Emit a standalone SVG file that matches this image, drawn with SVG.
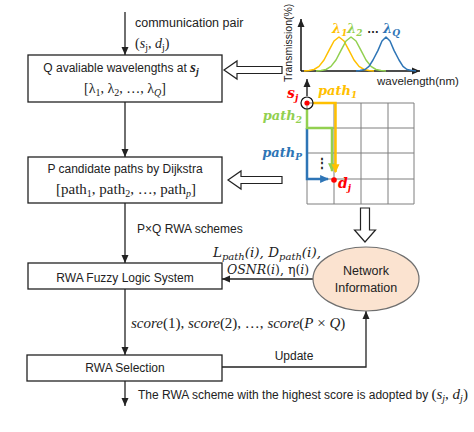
<svg xmlns="http://www.w3.org/2000/svg" width="474" height="432" viewBox="0 0 474 432">
<style>
.box{fill:#fff;stroke:#222;stroke-width:1.3}
.sans{font-family:"Liberation Sans",Arial,sans-serif;font-size:12px;fill:#222}
.ser{font-family:"Liberation Serif","Times New Roman",serif;font-size:15px;fill:#222}
.dv{font-family:"DejaVu Serif",serif;font-size:13.5px;fill:#222}
.it{font-style:italic}
.line{fill:none;stroke:#222;stroke-width:1.3}
.hollow{fill:#fff;stroke:#222;stroke-width:1.2}
.grid{stroke:#7f7f7f;stroke-width:1;fill:none}
.lbl{font-family:"DejaVu Serif",serif;font-size:13px;font-weight:bold;font-style:italic}
</style>
<defs>
<marker id="ah" viewBox="0 0 8 8" refX="8" refY="4" markerWidth="8" markerHeight="8" markerUnits="userSpaceOnUse" orient="auto"><path d="M0,0.5 L8,4 L0,7.5 z" fill="#222"/></marker>
<marker id="ahY" viewBox="0 0 8 8" refX="7" refY="4" markerWidth="9" markerHeight="9" markerUnits="userSpaceOnUse" orient="auto"><path d="M0,0.5 L8,4 L0,7.5 z" fill="#ffc000"/></marker>
<marker id="ahG" viewBox="0 0 8 8" refX="7" refY="4" markerWidth="9" markerHeight="9" markerUnits="userSpaceOnUse" orient="auto"><path d="M0,0.5 L8,4 L0,7.5 z" fill="#92d050"/></marker>
<marker id="ahB" viewBox="0 0 8 8" refX="7" refY="4" markerWidth="9" markerHeight="9" markerUnits="userSpaceOnUse" orient="auto"><path d="M0,0.5 L8,4 L0,7.5 z" fill="#2e75b6"/></marker>
</defs>

<g id="connectors">
<line class="line" x1="125" y1="12" x2="125" y2="55" marker-end="url(#ah)"/>
<line class="line" x1="125" y1="102" x2="125" y2="157" marker-end="url(#ah)"/>
<line class="line" x1="125" y1="203" x2="125" y2="263" marker-end="url(#ah)"/>
<line class="line" x1="125" y1="289" x2="125" y2="355" marker-end="url(#ah)"/>
<line class="line" x1="125" y1="381" x2="125" y2="406" marker-end="url(#ah)"/>
<line class="line" x1="313" y1="279" x2="222" y2="279" marker-end="url(#ah)"/>
<polyline class="line" points="222,367 366,367 366,311" marker-end="url(#ah)"/>
<path class="hollow" d="M224,70 L237,61 L237,66.5 L282,66.5 L282,73.5 L237,73.5 L237,79 Z"/>
<path class="hollow" d="M228,180 L241,171 L241,176.5 L282,176.5 L282,183.5 L241,183.5 L241,189 Z"/>
<path class="hollow" d="M360.5,208 L369.5,208 L369.5,230 L375.5,230 L365,242 L354.5,230 L360.5,230 Z"/>
<text class="sans" x="135" y="27" style="font-size:12.5px">communication pair</text>
<text class="ser" x="135" y="48" style="font-size:14px">(<tspan class="it">s</tspan><tspan dy="3" font-size="10">j</tspan><tspan dy="-3">, </tspan><tspan class="it">d</tspan><tspan dy="3" font-size="10">j</tspan><tspan dy="-3">)</tspan></text>
<text class="sans" x="137" y="233">P×Q  RWA schemes</text>
<text class="dv it" x="321" y="257" text-anchor="end">L<tspan dy="3" font-size="10">path</tspan><tspan dy="-3">(i), D</tspan><tspan dy="3" font-size="10">path</tspan><tspan dy="-3">(i),</tspan></text>
<text class="dv" x="227" y="274" style="font-size:12.5px"><tspan class="it">OSNR</tspan>(<tspan class="it">i</tspan>), η(<tspan class="it">i</tspan>)</text>
<text class="ser" x="131" y="328"><tspan class="it">score</tspan>(1), <tspan class="it">score</tspan>(2), …, <tspan class="it">score</tspan>(<tspan class="it">P</tspan> × <tspan class="it">Q</tspan>)</text>
<text class="sans" x="294" y="360" text-anchor="middle">Update</text>
<text class="sans" x="138" y="399">The RWA scheme with the highest score is adopted by <tspan class="ser">(<tspan class="it">s</tspan><tspan dy="3" font-size="10" font-style="italic">j</tspan><tspan dy="-3">, </tspan><tspan class="it">d</tspan><tspan dy="3" font-size="10" font-style="italic">j</tspan><tspan dy="-3">)</tspan></tspan></text>
</g>

<g id="box-wavelengths">
<rect class="box" x="28" y="55" width="194" height="47"/>
<text class="sans" x="121" y="72" text-anchor="middle">Q avaliable wavelengths at <tspan font-family="Liberation Serif, serif" font-style="italic" font-weight="bold" font-size="15">s</tspan><tspan font-family="Liberation Serif, serif" font-style="italic" font-weight="bold" font-size="10" dy="3">j</tspan></text>
<text class="ser" x="125" y="93" text-anchor="middle" style="font-size:14px">[λ<tspan dy="3" font-size="10">1</tspan><tspan dy="-3">, λ</tspan><tspan dy="3" font-size="10">2</tspan><tspan dy="-3">, …, λ</tspan><tspan dy="3" font-size="10" font-style="italic">Q</tspan><tspan dy="-3">]</tspan></text>
</g>

<g id="box-paths">
<rect class="box" x="28" y="157" width="194" height="46"/>
<text class="sans" x="125" y="173" text-anchor="middle">P candidate paths by Dijkstra</text>
<text class="ser" x="126" y="194" text-anchor="middle">[path<tspan dy="3" font-size="10">1</tspan><tspan dy="-3">, path</tspan><tspan dy="3" font-size="10">2</tspan><tspan dy="-3">, …, path</tspan><tspan dy="3" font-size="10" font-style="italic">p</tspan><tspan dy="-3">]</tspan></text>
</g>

<g id="box-fuzzy">
<rect class="box" x="28" y="263" width="194" height="26"/>
<text class="sans" x="125" y="282" text-anchor="middle">RWA Fuzzy Logic System</text>
</g>

<g id="box-selection">
<rect class="box" x="27" y="355" width="195" height="26"/>
<text class="sans" x="125" y="372" text-anchor="middle">RWA Selection</text>
</g>

<g id="node-network">
<ellipse cx="366" cy="279" rx="53" ry="32" fill="#fbe3d0" stroke="#6f6f6f" stroke-width="1.2"/>
<text class="sans" x="366" y="275" text-anchor="middle" style="font-size:12.5px">Network</text>
<text class="sans" x="366" y="292" text-anchor="middle" style="font-size:12.5px">Information</text>
</g>

<g id="spectrum">
<line x1="301" y1="71" x2="301" y2="19" stroke="#111" stroke-width="1.5" marker-end="url(#ah)"/>
<line x1="301" y1="71" x2="420" y2="71" stroke="#111" stroke-width="1.5" marker-end="url(#ah)"/>
<polyline fill="none" stroke="#ffc000" stroke-width="1.5" stroke-linejoin="round" points="304,71 309,70.6 314,69.5 319,66.4 324,60 329,50.4 334,41 339,37 344,41 349,50.4 354,60 359,66.4 364,69.5 369,70.6 374,71"/>
<polyline fill="none" stroke="#92d050" stroke-width="1.5" stroke-linejoin="round" points="316,71 321,70.6 326,69.5 331,66.4 336,60 341,50.4 346,41 351,37 356,41 361,50.4 366,60 371,66.4 376,69.5 381,70.6 386,71"/>
<polyline fill="none" stroke="#2e75b6" stroke-width="1.5" stroke-linejoin="round" points="356,71 360,70.6 365,69.5 369,66.4 373,60 378,50.4 382,41 386,37 390,41 394,50.4 399,60 403,66.4 407,69.5 412,70.6 416,71"/>
<text class="sans" transform="translate(292,82) rotate(-90)" style="font-size:10.5px">Transmission(%)</text>
<text class="sans" x="377" y="85" style="font-size:11.5px">wavelength(nm)</text>
<text class="lbl" x="332" y="33" fill="#ffc000">λ<tspan font-size="9" dy="3">1</tspan></text>
<text class="lbl" x="347" y="33" fill="#92d050">λ<tspan font-size="9" dy="3">2</tspan></text>
<text class="sans" x="367" y="33" font-weight="bold">…</text>
<text class="lbl" x="383" y="33" fill="#2e75b6">λ<tspan font-size="9" dy="3">Q</tspan></text>
</g>

<g id="grid-network">
<path class="grid" d="M307,103 V204 M334,103 V204 M361,103 V204 M388,103 V204 M414,103 V204 M307,103 H414 M307,128 H414 M307,153 H414 M307,179 H414 M307,204 H414"/>
<polyline fill="none" stroke="#2e75b6" stroke-width="2.5" points="307,128 307,179 328,179" marker-end="url(#ahB)"/>
<polyline fill="none" stroke="#92d050" stroke-width="2.5" points="307,109 307,128 332,128 332,171" marker-end="url(#ahG)"/>
<polyline fill="none" stroke="#ffc000" stroke-width="2.5" points="313,103 335.5,103 335.5,172" marker-end="url(#ahY)"/>
<line x1="307" y1="96" x2="307" y2="79" stroke="#111" stroke-width="1.3" marker-end="url(#ah)"/>
<circle cx="307" cy="103" r="6" fill="none" stroke="#111" stroke-width="1.2"/>
<circle cx="307" cy="103" r="2.6" fill="#ff0000"/>
<circle cx="334" cy="180" r="2.8" fill="#ff0000"/>
<text class="lbl" x="287" y="98" fill="#ff0000" style="font-size:14px">s<tspan font-size="9" dy="3">j</tspan></text>
<text class="lbl" x="338" y="188" fill="#ff0000" style="font-size:14px">d<tspan font-size="9" dy="3">j</tspan></text>
<text class="lbl" x="318" y="95" fill="#ffc000">path<tspan font-size="9" dy="3">1</tspan></text>
<text class="lbl" x="302" y="120" fill="#92d050" text-anchor="end">path<tspan font-size="9" dy="3">2</tspan></text>
<text class="lbl" x="302" y="157" fill="#2e75b6" text-anchor="end">path<tspan font-size="9" dy="3">P</tspan></text>
<text class="sans" x="322" y="167" font-weight="bold" text-anchor="middle">⋮</text>
</g>
</svg>
